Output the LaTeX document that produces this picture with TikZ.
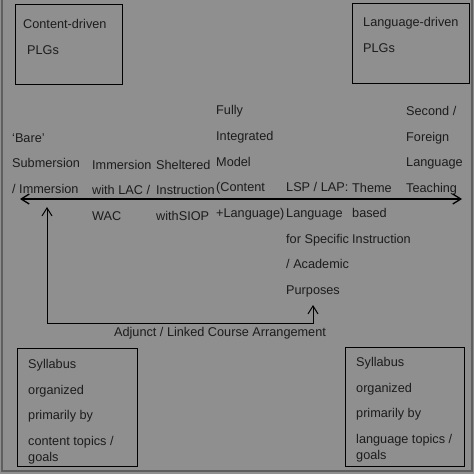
\documentclass[tikz,border=0pt]{standalone}
\usepackage{fontspec}
\setmainfont{Liberation Sans}
\usetikzlibrary{arrows.meta}
\definecolor{bggray}{RGB}{143,143,143}
\definecolor{framegray}{RGB}{95,95,95}
\definecolor{inkgray}{RGB}{28,28,28}

\begin{document}
\begin{tikzpicture}[x = 1pt, y = -1pt,
    >={Straight Barb[length=8pt, width=10pt]},
    lbl/.style = {anchor = base west, inner sep = 0pt, align = left, text = inkgray,
        font = \fontsize{12.7}{25.7}\selectfont},
    plgbox/.style = {draw = black, line width = 1pt}]
    \useasboundingbox[fill = bggray] (0,0) rectangle (474,474);
    \draw[framegray, line width = 1.2pt] (2,-2) -- (2,471) -- (472,471) -- (472,-2);

    % boxes at the corners (text placed by its last line)
    \draw[plgbox] (15,4) rectangle (122,84);
    \draw[plgbox] (352,3) rectangle (469,83);
    \draw[plgbox] (17,348) rectangle (137,466);
    \draw[plgbox] (345,347) rectangle (464,466);
    \node[lbl] (contentplg) at (23,54.5) {Content-driven\\\hspace*{4pt}PLGs};
    \node[lbl] (langplg) at (363,52.5) {Language-driven\\PLGs};
    \node[lbl] (contentsyl) at (28,461.5) {Syllabus\\organized\\primarily by\\content topics /\\[-9.7pt]goals};
    \node[lbl] (langsyl) at (356,459.5) {Syllabus\\organized\\primarily by\\language topics /\\[-9.7pt]goals};

    % points along the continuum
    \node[lbl] (bare) at (12,193.5) {`Bare'\\Submersion\\/ Immersion};
    \node[lbl] (lac) at (92,220.5) {Immersion\\with LAC /\\WAC};
    \node[lbl] (siop) at (156,220.5) {Sheltered\\Instruction\\withSIOP};
    \node[lbl] (fim) at (216,217.5) {Fully\\Integrated\\Model\\(Content\\+Language)};
    \node[lbl] (lsp) at (286,294.5) {LSP / LAP:\\Language\\for Specific\\/ Academic\\Purposes};
    \node[lbl] (theme) at (352,243.5) {Theme\\based\\Instruction};
    \node[lbl] (slt) at (406,192.5) {Second /\\Foreign\\Language\\Teaching};

    \coordinate (contL) at (20,199);
    \coordinate (contR) at (462,199);
    \draw[<->, line width = 1.3pt] (contL) -- (contR);

    \coordinate (adjL) at (47,207);
    \coordinate (adjR) at (313,305);
    \draw[<->, line width = 1pt] (adjL) |- (adjR |- 0,323) -- (adjR);
    \node[lbl, anchor = base] (adjunct) at (220,336.5) {Adjunct / Linked Course Arrangement};
\end{tikzpicture}
\end{document}
